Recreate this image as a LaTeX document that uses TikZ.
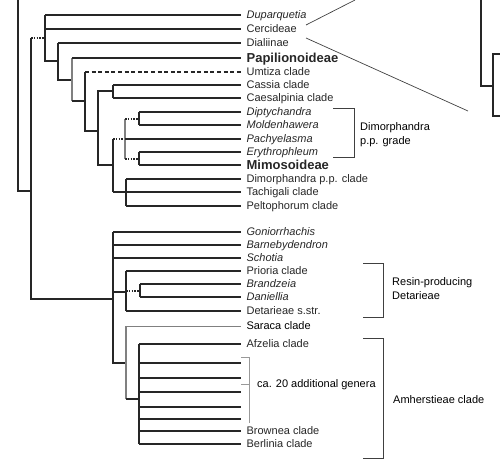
\documentclass[tikz,border=0pt]{standalone}
\usepackage{fontspec}
\setmainfont{Liberation Sans}
\begin{document}
\begin{tikzpicture}[x=1pt,y=-1pt,
  br/.style={line width=1.2pt,black!85},
  gbr/.style={line width=1.2pt,black!50},
  dotbr/.style={line width=1.2pt,black!85,dash pattern=on 1.6pt off 1.2pt},
  dashbr/.style={line width=1.2pt,black!85,dash pattern=on 4pt off 2.6pt},
  thinln/.style={line width=0.7pt,black!75},
  lab/.style={anchor=west,inner xsep=5pt,inner ysep=0pt,text height=7.8pt,text depth=0pt,font=\fontsize{11}{13}\selectfont},
  blab/.style={lab,text height=9.4pt,font=\fontsize{13}{15}\selectfont\bfseries}]
\useasboundingbox (0,0) rectangle (500,475);
\draw[br] (18,0) -- (18,191) -- (31,191);
\draw[br] (31,38) -- (31,299) -- (113,299);
\draw[dotbr] (31,38) -- (45,38);
\draw[br] (45,15) -- (45,61) -- (58,61);
\draw[br] (58,43) -- (58,80) -- (72,80);
\draw[gbr] (72,58) -- (72,101);
\draw[br] (72,101) -- (85,101);
\draw[br] (85,72) -- (85,131) -- (98,131);
\draw[br] (113,91) -- (98,91) -- (98,165) -- (113,165);
\draw[br] (113,85) -- (113,98);
\draw[br] (113,139) -- (113,192);
\draw[dotbr] (113,139) -- (125,139);
\draw[gbr] (125,119) -- (125,159);
\draw[dotbr] (125,119) -- (139,119) (125,159) -- (139,159);
\draw[br] (139,112) -- (139,125) (139,152) -- (139,165);
\draw[br] (126,179) -- (126,206);
\draw[br] (113,232) -- (113,363) -- (126,363);
\draw[br] (113,292) -- (126,292);
\draw[br] (126,271) -- (126,311);
\draw[dotbr] (126,291) -- (140,291);
\draw[br] (140,284) -- (140,297);
\draw[gbr] (126,326) -- (126,399);
\draw[br] (126,399) -- (139,399);
\draw[br] (139,344) -- (139,444);
\foreach \x/\y/\n/\t in {45/15/dup/\textit{Duparquetia},45/29/cerc/Cercideae,58/43/dial/Dialiinae,
  113/85/cass/Cassia clade,113/98/caes/Caesalpinia clade,139/112/dipt/\textit{Diptychandra},
  139/125/mold/\textit{Moldenhawera},125/139/pach/\textit{Pachyelasma},139/152/eryt/\textit{Erythrophleum},
  126/179/dimo/Dimorphandra p.p. clade,113/192/tach/Tachigali clade,126/206/pelt/Peltophorum clade,
  113/232/goni/\textit{Goniorrhachis},113/245/barn/\textit{Barnebydendron},113/258/scho/\textit{Schotia},
  126/271/prio/Prioria clade,140/284/bran/\textit{Brandzeia},140/297/dani/\textit{Daniellia},
  126/311/dets/Detarieae s.str.,139/344/afze/Afzelia clade,139/431/brow/Brownea clade,139/444/berl/Berlinia clade}
  \draw[br] (\x,\y) -- (241,\y) node[lab] (\n) {\t};
\foreach \y in {363,378,392,407,419}
  \draw[br] (139,\y) -- (241,\y);
\draw[br] (72,58) -- (241,58) node[blab] (papil) {Papilionoideae};
\draw[br] (139,165) -- (241,165) node[blab] (mimo) {Mimosoideae};
\draw[dashbr] (85,72) -- (241,72) node[lab] (umt) {Umtiza clade};
\draw[gbr,line width=1pt] (126,326) -- (241,326) node[lab,black] (sara) {Saraca clade};
\draw[thinln] (333,108) -- (354,108) -- (354,157) -- (333,157);
\draw[thinln] (363,263) -- (383,263) -- (383,317) -- (363,317);
\draw[thinln] (363,338) -- (383,338) -- (383,458) -- (363,458);
\draw[thinln,black!40] (241,357) -- (249,357) -- (249,423) (241,384) -- (249,384);
\node[lab] (dgr1) at (355,127) {Dimorphandra};
\node[lab] (dgr2) at (355,141) {p.p. grade};
\node[lab] (res1) at (387,282) {Resin-producing};
\node[lab] (res2) at (387,296) {Detarieae};
\node[lab] (amh) at (388,400) {Amherstieae clade};
\node[lab] (addg) at (252,384) {ca. 20 additional genera};
\draw[thinln] (306,25) -- (355,0);
\draw[thinln] (306,38) -- (468,111);
\draw[br] (481,0) -- (481,86) -- (493,86);
\draw[br] (500,54) -- (493,54) -- (493,116) -- (500,116);
\end{tikzpicture}
\end{document}
